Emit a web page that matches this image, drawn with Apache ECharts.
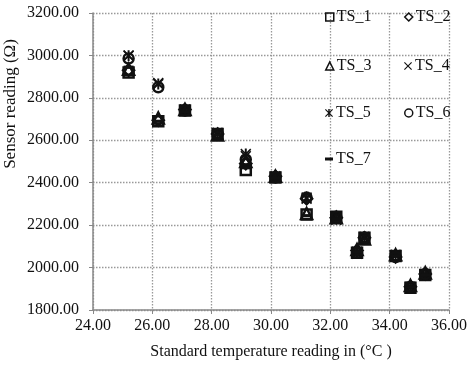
<!DOCTYPE html>
<html><head><meta charset="utf-8">
<script src="https://cdn.jsdelivr.net/npm/echarts@6/dist/echarts.min.js"></script>
<style>html,body{margin:0;padding:0;background:#fff}#c{width:474px;height:370px}</style>
</head><body><div id="c"></div>
<script>
const temps = [25.2, 26.2, 27.1, 28.2, 29.15, 30.15, 31.2, 32.2, 32.9, 33.15, 34.2, 34.7, 35.2];
const TS_1 = [2920, 2690, 2740, 2630, 2460, 2425, 2250, 2240, 2070, 2140, 2055, 1905, 1965];
const TS_2 = [2930, 2695, 2745, 2630, 2490, 2430, 2325, 2235, 2080, 2140, 2050, 1910, 1970];
const TS_3 = [2935, 2705, 2745, 2625, 2500, 2430, 2255, 2235, 2085, 2135, 2060, 1915, 1975];
const TS_4 = [3000, 2870, 2740, 2635, 2525, 2425, 2330, 2225, 2065, 2140, 2055, 1905, 1970];
const TS_5 = [2998, 2865, 2745, 2630, 2535, 2430, 2325, 2240, 2075, 2145, 2060, 1910, 1965];
const TS_6 = [2985, 2850, 2740, 2630, 2510, 2425, 2330, 2240, 2070, 2140, 2050, 1910, 1970];
const TS_7 = [2945, 2690, 2735, 2625, 2470, 2420, 2245, 2230, 2075, 2135, 2055, 1910, 1965];
const names = ['TS_1','TS_2','TS_3','TS_4','TS_5','TS_6','TS_7'];
const values = [TS_1, TS_2, TS_3, TS_4, TS_5, TS_6, TS_7];

const X_PATH = 'path://M0,1L1,0L5,4L9,0L10,1L6,5L10,9L9,10L5,6L1,10L0,9L4,5Z';
const AST_PATH = 'path://M0,1L1,0L5,4L9,0L10,1L6,5L10,9L9,10L5,6L1,10L0,9L4,5ZM4.1,0L5.9,0L5.9,10L4.1,10Z';
const sym = [
  {symbol:'rect', size:10, fill:'transparent', bw:2.5},
  {symbol:'diamond', size:11, fill:'transparent', bw:2.5},
  {symbol:'triangle', size:11, fill:'transparent', bw:2.5},
  {symbol:X_PATH, size:11, fill:'#111', bw:0},
  {symbol:AST_PATH, size:11, fill:'#111', bw:0},
  {symbol:'circle', size:10, fill:'transparent', bw:2.5},
  {symbol:'rect', size:[10,3], fill:'#111', bw:0}
];
const font = 'Liberation Serif';
const series = names.map((n,i)=>({
  name:n, type:'scatter', symbol:sym[i].symbol, symbolSize:sym[i].size,
  itemStyle:{color:sym[i].fill, borderColor:'#111', borderWidth:sym[i].bw, opacity:1},
  data: temps.map((t,j)=>[t, values[i][j]])
}));
const legPos = [[320,4],[399,4],[320,53],[399,53],[320,100],[399,100],[320,146]];
const legends = names.map((n,i)=>({
  data:[n], left:legPos[i][0], top:legPos[i][1], orient:'horizontal',
  itemWidth: 8, itemHeight: i===6 ? 3 : 8, itemGap: 2,
  textStyle:{fontFamily:font, fontSize:16, color:'#111', padding:[0,0,0,-2]},
  itemStyle:{borderWidth: (sym[i].bw ? 1.5 : 0)},
  selectedMode:false
}));
const chart = echarts.init(document.getElementById('c'));
chart.setOption({
  animation:false,
  backgroundColor:'#fff',
  grid:{left:93, right:25, top:13, bottom:60},
  legend: legends,
  xAxis:{
    type:'value', min:24, max:36, interval:2,
    name:'Standard temperature reading in (°C )', nameLocation:'middle', nameGap:34,
    nameTextStyle:{fontFamily:font, fontSize:16, color:'#111'},
    axisLine:{show:true, lineStyle:{color:'#888', width:1.5}},
    axisTick:{show:true, length:4, lineStyle:{color:'#888'}},
    axisLabel:{fontFamily:font, fontSize:16, color:'#111', margin:8, formatter:v=>v.toFixed(2)},
    splitLine:{show:true, lineStyle:{color:'#999', type:[1.5,1.5], width:1.3}}
  },
  yAxis:{
    type:'value', min:1800, max:3200, interval:200,
    axisLine:{show:true, lineStyle:{color:'#888', width:1.5}},
    axisTick:{show:true, length:4, lineStyle:{color:'#888'}},
    axisLabel:{fontFamily:font, fontSize:16, color:'#111', margin:14, formatter:v=>v.toFixed(2)},
    splitLine:{show:true, lineStyle:{color:'#999', type:[1.5,1.5], width:1.3}}
  },
  graphic:[{
    type:'text', x:11, y:104, rotation:Math.PI/2,
    style:{text:'Sensor reading (Ω)', fontFamily:font, fontSize:17, fill:'#111', textAlign:'center', textVerticalAlign:'middle'}
  }],
  series: series
});
</script></body></html>
